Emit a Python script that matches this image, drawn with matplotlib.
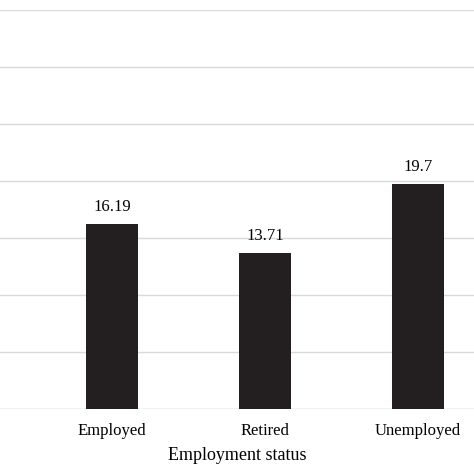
import matplotlib
matplotlib.use("Agg")
import matplotlib.pyplot as plt

categories = ["Self-employed", "Employed", "Retired", "Unemployed"]
values = [15.0, 16.19, 13.71, 19.7]
labels = ["15.0", "16.19", "13.71", "19.7"]

plt.rcParams['font.family'] = ['Liberation Serif', 'DejaVu Serif']
fig = plt.figure(figsize=(4.74, 4.74), dpi=100)
ax = fig.add_axes([0, 65/474, 1, 399/474])
x = list(range(len(categories)))
ax.bar(x, values, width=0.34, color="#231f20", zorder=3)
for xi, v, l in zip(x, values, labels):
    ax.text(xi, v + 0.8, l, ha="center", va="bottom", fontsize=12, clip_on=True)
ax.set_xticks(x)
ax.set_xticklabels(categories)
ax.set_xlim(0.268, 3.366)
ax.set_ylim(0, 35)
ax.set_yticks(range(0, 36, 5))
ax.yaxis.grid(True, color="#d9d9d9", linewidth=1)
ax.tick_params(axis="y", left=False, labelleft=False)
ax.tick_params(axis="x", length=0, labelsize=12, pad=10)
for s in ax.spines.values():
    s.set_visible(False)
ax.axhline(0, color="#d9d9d9", linewidth=1)
ax.set_xlabel("Employment status", fontsize=13, labelpad=6)
fig.savefig("out.png", dpi=100)
